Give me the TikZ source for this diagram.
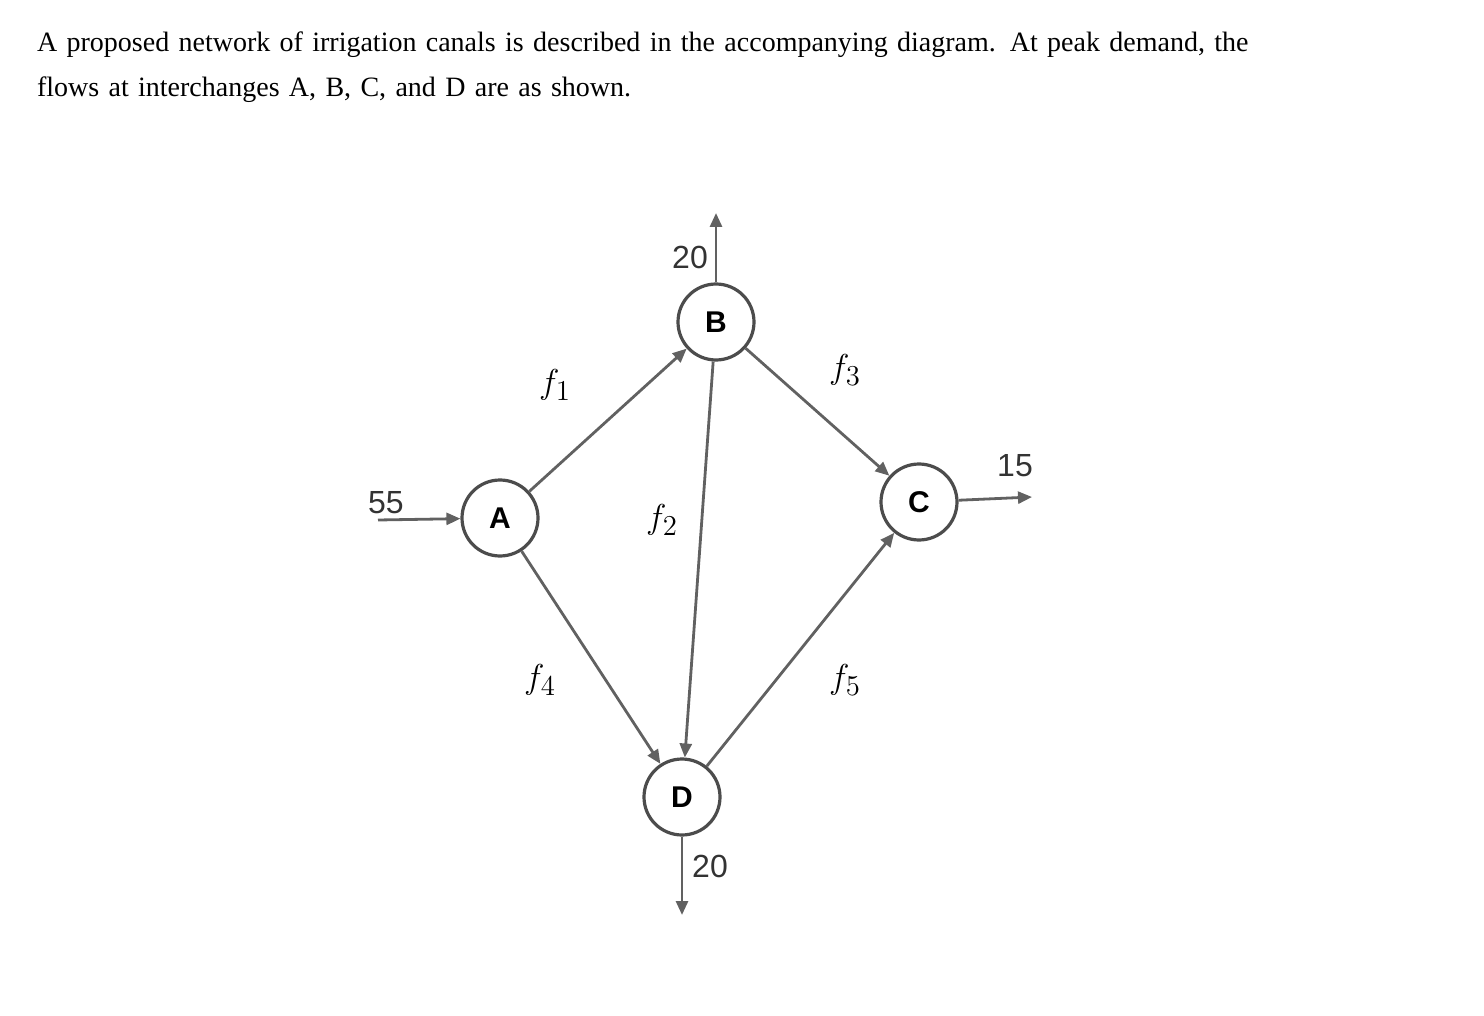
\documentclass[tikz,border=0pt]{standalone}
\usepackage{fontspec}
\setmainfont{Liberation Serif}
\newfontfamily\sansf{Liberation Sans}
\usetikzlibrary{arrows.meta}
\begin{document}
\begin{tikzpicture}[x=0.5pt,y=-0.5pt,
  nd/.style={circle,draw=black!70,line width=1.6pt,fill=white,minimum size=38pt,inner sep=0pt,font=\sansf\bfseries\fontsize{15}{15}\selectfont},
  edge/.style={draw=black!62,line width=1.4pt,-{Triangle[length=7pt,width=6pt]}},
  num/.style={font=\sansf\fontsize{16}{16}\selectfont,text=black!80},
  fl/.style={font=\fontsize{19}{19}\selectfont}]
\useasboundingbox (0,0) rectangle (1484,1016);
\node[anchor=west,font=\fontsize{14}{22.5}\selectfont,align=left,text width=700pt] at (30,67)
 {A proposed network of irrigation canals is described in the accompanying diagram. At peak demand, the\\flows at interchanges A, B, C, and D are as shown.};
\node[nd] (A) at (500,518) {A};
\node[nd] (B) at (716,322) {B};
\node[nd] (C) at (919,502) {C};
\node[nd] (D) at (682,797) {D};
\coordinate (in) at (378,520);
\coordinate (bo) at (716,213);
\coordinate (do) at (682,915);
\coordinate (co) at (1032,497);
\draw[edge] (in) -- (A);
\draw[edge] (B) -- (bo);
\draw[edge] (D) -- (do);
\draw[edge] (C) -- (co);
\draw[edge] (A) -- (B);
\draw[edge] (B) -- (C);
\draw[edge] (B) -- (D);
\draw[edge] (A) -- (D);
\draw[edge] (D) -- (C);
\node[num] (n55) at (386,503) {55};
\node[num] (n20a) at (690,257) {20};
\node[num] (n20b) at (710,866) {20};
\node[num] (n15) at (1015,466) {15};
\node[fl] (f1) at (555,385) {$f_1$};
\node[fl] (f2) at (662,520) {$f_2$};
\node[fl] (f3) at (845,370) {$f_3$};
\node[fl] (f4) at (540,680) {$f_4$};
\node[fl] (f5) at (845,680) {$f_5$};
\end{tikzpicture}
\end{document}
